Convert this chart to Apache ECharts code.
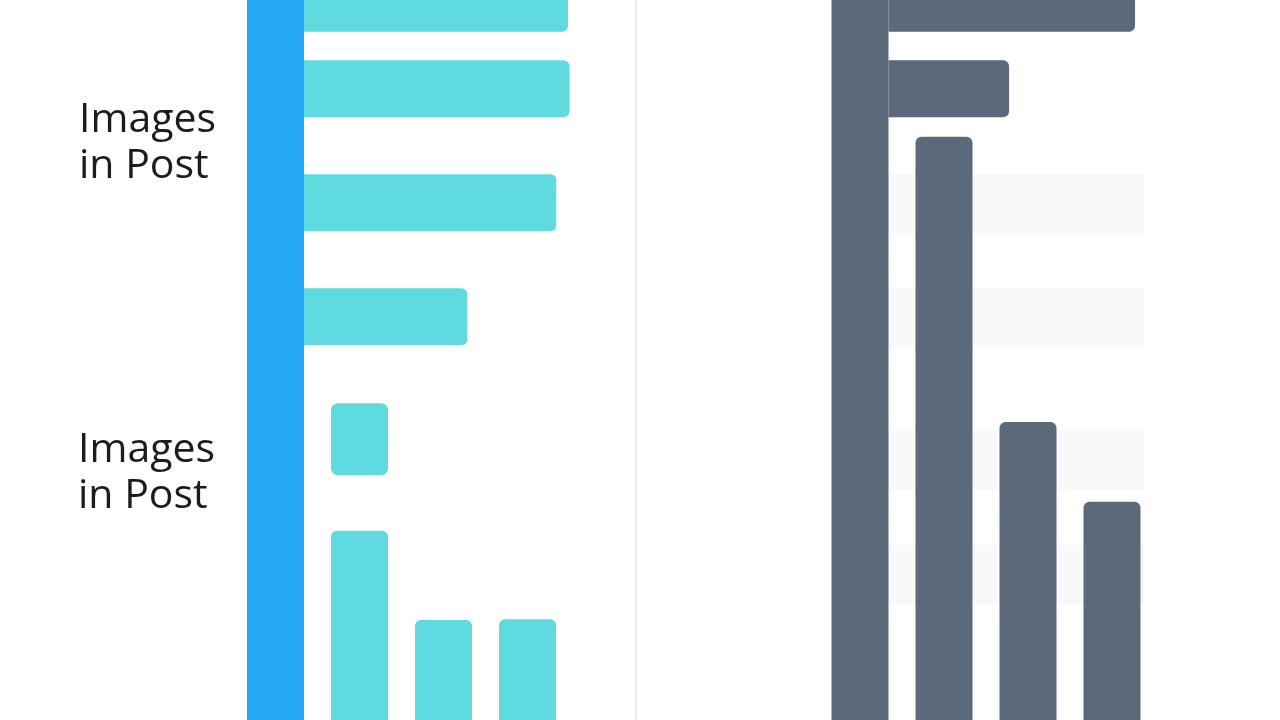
<!DOCTYPE html>
<html>
<head>
<meta charset="utf-8">
<title>Images in Post</title>
<script src="https://cdn.jsdelivr.net/npm/echarts@6/dist/echarts.min.js"></script>
<style>
    html, body { margin: 0; padding: 0; background: #ffffff; }
    #chart { width: 1280px; height: 720px; }
</style>
</head>
<body>
<div id="chart"></div>
<script>
// row slots for the horizontal bars (26 slots, top to bottom)
var rowSlots = [];
for (var i = 0; i < 26; i++) { rowSlots.push('row' + i); }

// left panel, horizontal bars (share of width, '-' = empty slot)
var leftRowValues = [79.5, '-', '-', 80, '-', '-', '-', 76, '-', '-', '-', 49.2, '-',
    '-', '-', '-', '-', '-', '-', '-', '-', '-', '-', '-', '-', '-'];
// right panel, horizontal bars
var rightRowValues = [96.5, '-', '-', 47.2, '-', '-', '-', '-', '-', '-', '-', '-', '-',
    '-', '-', '-', '-', '-', '-', '-', '-', '-', '-', '-', '-', '-'];
// right panel, faint tracks behind the columns
var rightTrackValues = ['-', '-', '-', '-', '-', '-', '-', 100, '-', '-', '-', 100, '-',
    '-', '-', '-', 100, '-', '-', '-', 100, '-', '-', '-', '-', '-'];

// columns: first one is the full height spine
var colSlots = ['spine', 'c1', 'c2', 'c3'];
var leftColValues = [100, 26.3, 13.9, 14];
var leftFloatBase = ['-', 34, '-', '-'];
var leftFloatTop = ['-', 10, '-', '-'];
var rightColValues = [100, 81, 41.4, 30.3];

var labelText = 'Images\nin Post';

(function () {
    var chart = echarts.init(document.getElementById('chart'));
    var BLUE = '#24a8f6';
    var CYAN = '#5fdadf';
    var SLATE = '#5a6a7a';

    function spine(values, color) {
        return values.map(function (v, i) {
            if (i === 0) {
                return { value: v, itemStyle: { color: color, borderRadius: 0 } };
            }
            return v;
        });
    }

    var hidden = { show: false };
    var labelStyle = { fontSize: 41, lineHeight: 46, fontWeight: 'normal', color: '#1c1c1c', fontFamily: 'Open Sans' };

    var option = {
        backgroundColor: '#ffffff',
        animation: false,
        textStyle: { fontFamily: 'Open Sans' },
        title: [
            { text: labelText, left: 74, top: 92.5, textStyle: labelStyle },
            { text: labelText, left: 73, top: 422.5, textStyle: labelStyle }
        ],
        grid: [
            // left horizontal bars, right edge is the divider
            { left: 304, width: 332, top: -11, height: 741, outerBoundsMode: 'none' },
            // right horizontal bars
            { left: 888.5, width: 255.5, top: -11, height: 741, outerBoundsMode: 'none' },
            // left columns
            { left: 233.5, width: 336, top: 0, bottom: 0, outerBoundsMode: 'none' },
            // right columns
            { left: 818, width: 336, top: 0, bottom: 0, outerBoundsMode: 'none' }
        ],
        xAxis: [
            { gridIndex: 0, type: 'value', min: 0, max: 100, show: false },
            { gridIndex: 1, type: 'value', min: 0, max: 100, show: false },
            { gridIndex: 2, type: 'category', data: colSlots, show: false },
            { gridIndex: 3, type: 'category', data: colSlots, show: false }
        ],
        yAxis: [
            {
                gridIndex: 0, type: 'category', data: rowSlots, inverse: true,
                position: 'right',
                axisLine: { show: true, onZero: false, lineStyle: { color: '#e4edf1', width: 2 } },
                axisTick: hidden, axisLabel: hidden, splitLine: hidden
            },
            { gridIndex: 1, type: 'category', data: rowSlots, inverse: true, show: false },
            { gridIndex: 2, type: 'value', min: 0, max: 100, show: false },
            { gridIndex: 3, type: 'value', min: 0, max: 100, show: false }
        ],
        series: [
            {
                name: 'left rows', type: 'bar', xAxisIndex: 0, yAxisIndex: 0,
                barWidth: 57, data: leftRowValues,
                itemStyle: { color: CYAN, borderRadius: [0, 6, 6, 0] }
            },
            {
                name: 'right tracks', type: 'bar', xAxisIndex: 1, yAxisIndex: 1,
                barWidth: 59, barGap: '-100%', data: rightTrackValues, z: 1, silent: true,
                itemStyle: { color: '#f8f9f9' }
            },
            {
                name: 'right rows', type: 'bar', xAxisIndex: 1, yAxisIndex: 1,
                barWidth: 57, barGap: '-100%', data: rightRowValues,
                itemStyle: { color: SLATE, borderRadius: [0, 6, 6, 0] }
            },
            {
                name: 'left cols', type: 'bar', xAxisIndex: 2, yAxisIndex: 2,
                barWidth: 57, barGap: '-100%', data: spine(leftColValues, BLUE),
                itemStyle: { color: CYAN, borderRadius: [6, 6, 0, 0] }
            },
            {
                name: 'left float base', type: 'bar', xAxisIndex: 2, yAxisIndex: 2,
                barWidth: 57, barGap: '-100%', stack: 'float', data: leftFloatBase,
                itemStyle: { color: 'rgba(0,0,0,0)' }, silent: true
            },
            {
                name: 'left float', type: 'bar', xAxisIndex: 2, yAxisIndex: 2,
                barWidth: 57, barGap: '-100%', stack: 'float', data: leftFloatTop,
                itemStyle: { color: CYAN, borderRadius: 7 }
            },
            {
                name: 'right cols', type: 'bar', xAxisIndex: 3, yAxisIndex: 3,
                barWidth: 57, barGap: '-100%', data: spine(rightColValues, SLATE), z: 3,
                itemStyle: { color: SLATE, borderRadius: [6, 6, 0, 0] }
            }
        ]
    };
    chart.setOption(option);
})();
</script>
</body>
</html>
